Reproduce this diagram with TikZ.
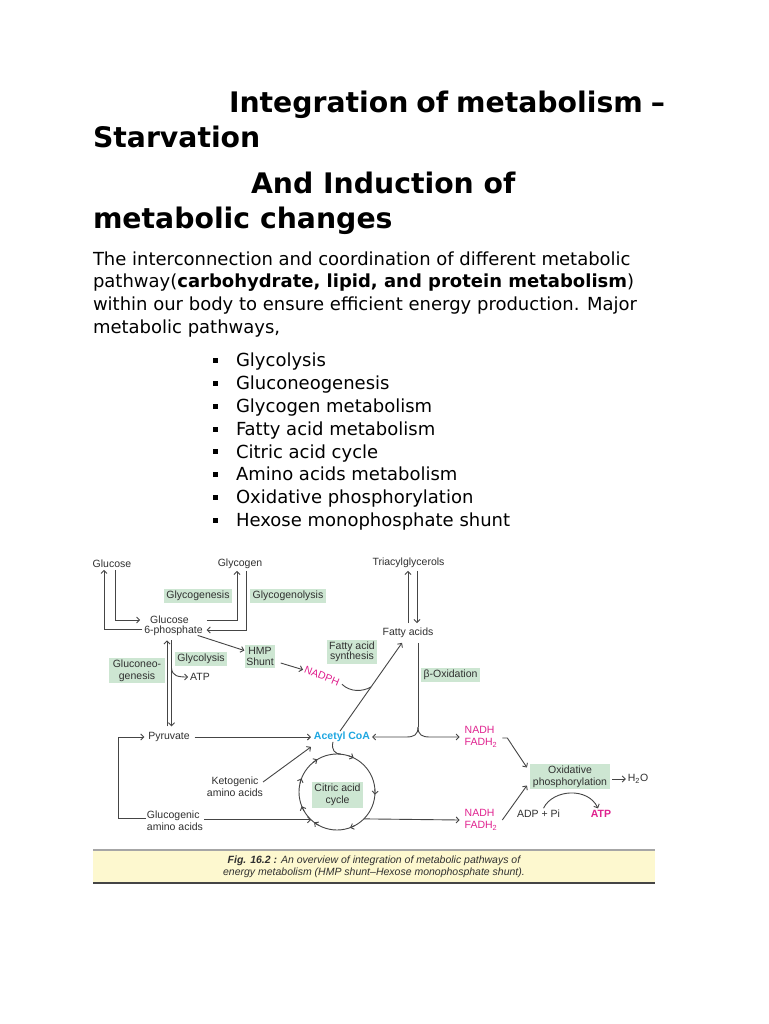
\documentclass[tikz,border=0pt]{standalone}
\usepackage{fontspec}
\setmainfont{DejaVu Sans}
\newfontfamily\dfont{Liberation Sans}
\usetikzlibrary{arrows.meta,calc}
\definecolor{dtext}{HTML}{303030}
\definecolor{dline}{HTML}{454545}
\definecolor{gbox}{HTML}{CDE6D2}
\definecolor{mag}{HTML}{E0228F}
\definecolor{cyanA}{HTML}{1EA7E1}
\definecolor{capbg}{HTML}{FDF8CF}
\begin{document}
\begin{tikzpicture}[x=1pt,y=-1pt,
  every node/.style={inner sep=0pt, outer sep=0pt},
  title/.style={anchor=base west, font=\fontsize{28.3}{34}\selectfont\bfseries},
  body/.style={anchor=base west, font=\fontsize{18}{21}\selectfont},
  bul/.style={fill=black, minimum size=5pt},
  lbl/.style={font=\dfont\fontsize{10.5}{11.8}\selectfont, text=dtext, inner sep=1pt, align=center},
  lblb/.style={lbl, font=\dfont\bfseries\fontsize{10.5}{11.8}\selectfont},
  gb/.style={lbl, fill=gbox, inner xsep=2.5pt, inner ysep=1.8pt},
  gbone/.style={gb, text height=7.6pt, text depth=2.2pt},
  arr/.style={draw=dline, line width=0.9pt, -{Straight Barb[length=3pt,width=6pt]}},
  ln/.style={draw=dline, line width=0.9pt},
]
\useasboundingbox (0,0) rectangle (768,1024);
\fill[white] (0,0) rectangle (768,1024);

% ---------- title and text ----------
\node[title] (t1) at (229,112.7) {\makebox[436pt][s]{Integration of metabolism –}};
\node[title] (t2) at (93,147.7) {Starvation};
\node[title] (t3) at (251,193.3) {And Induction of};
\node[title] (t4) at (93,229) {metabolic changes};
\node[body] (b1) at (93,265) {The interconnection and coordination of different metabolic};
\node[body] (b2) at (93,287.7) {pathway(\textbf{carbohydrate, lipid, and protein metabolism})};
\node[body] (b3) at (93,310.7) {within our body to ensure efficient energy production. Major};
\node[body] (b4) at (93,333.3) {metabolic pathways,};

\foreach \txt [count=\i from 0] in {Glycolysis, Gluconeogenesis, Glycogen metabolism, Fatty acid metabolism, Citric acid cycle, Amino acids metabolism, Oxidative phosphorylation, Hexose monophosphate shunt}{
  \node[body] (li\i) at (236,{366.7+22.85*\i}) {\txt};
  \node[bul] (bu\i) at (215.5,{360.5+22.85*\i}) {};
}

% ---------- diagram nodes ----------
\node[lbl] (glc) at (112,564) {Glucose};
\node[lbl] (glyg) at (240,564) {Glycogen};
\node[lbl] (g6pa) at (169.5,620) {Glucose};
\node[lbl] (g6pb) at (173.5,630.5) {6-phosphate};
\node[gbone] (glygen) at (198,596) {Glycogenesis};
\node[gbone] (glylys) at (288,596) {Glycogenolysis};
\node[gb, inner xsep=1pt] (hmp) at (260,656.5) {HMP\\Shunt};
\node[lbl, text=mag, rotate=-22] (nadph) at (322,676) {NADPH};
\node[gbone] (glyco) at (201,659) {Glycolysis};
\node[gb, inner xsep=4pt] (gneo) at (137,670.5) {Gluconeo-\\genesis};
\node[lbl] (atpa) at (200,677) {ATP};
\node[lbl] (pyr) at (169,737) {Pyruvate};
\node[lblb, text=cyanA] (acoa) at (342,737) {Acetyl CoA};
\node[lbl] (keto) at (235,787) {Ketogenic\\amino acids};
\node[lbl, align=left] (gluco) at (175,820.5) {Glucogenic\\amino acids};
\node[lbl] (tag) at (408.5,563) {Triacylglycerols};
\node[lbl] (fa) at (408,633) {Fatty acids};
\node[gb, font=\dfont\fontsize{10.5}{10}\selectfont] (fas) at (352,652) {Fatty acid\\synthesis};
\node[gbone] (box) at (450.5,675) {β-Oxidation};
\node[lbl, align=left, text=mag] (nadh1) at (481,737) {NADH\\FADH\textsubscript{2}};
\node[gb, inner xsep=3pt] (oxp) at (570,776.5) {Oxidative\\phosphorylation};
\node[lbl] (h2o) at (638,779) {H\textsubscript{2}O};
\node[lbl, align=left, text=mag] (nadh2) at (481,820) {NADH\\FADH\textsubscript{2}};
\node[lbl] (adp) at (538.5,814) {ADP + Pi};
\node[lblb, text=mag] (atpb) at (601,814) {ATP};
\node[circle, draw=dline, line width=0.9pt, minimum size=76pt] (cyc) at (337,792) {};
\coordinate (cycc) at (cyc.center);
\node[gb] (cac) at (337.5,795) {Citric acid\\cycle};

% ---------- connectors ----------
% glucose / glycogen loops
\draw[arr] ($(glc.south)+(3,1)$) |- ($(g6pa.west)+(-9,0)$);
\draw[arr] ($(g6pb.west)+(-1,-1)$) -| ($(glc.south)+(-8,1)$);
\draw[arr] ($(g6pa.east)+(17,0)$) -| ($(glyg.south)+(-3,1)$);
\draw[arr] ($(glyg.south)+(6,1)$) |- ($(g6pb.east)+(3,-0.5)$);
% HMP shunt
\draw[arr] ($(g6pb.south east)+(-6,-1)$) -- ($(hmp.west)+(-1,-6)$);
\draw[arr] ($(hmp.east)+(6,6.5)$) -- ($(nadph.west)+(-1,1)$);
% glycolysis / gluconeogenesis
\draw[arr] ($(pyr.north)+(-2,-5)$) -- ($(g6pb.south)+(-6.5,4)$);
\draw[arr] ($(g6pb.south)+(-2,4)$) -- ($(pyr.north)+(2.5,-5)$);
\draw[arr] (171.5,668) .. controls (172,676) and (178,677) .. ($(atpa.west)+(-1,0)$);
% pyruvate -> acetyl CoA
\draw[arr] ($(pyr.east)+(4,0)$) -- ($(acoa.west)+(-2,0)$);
% glucogenic loop
\draw[arr] ($(gluco.west)+(0,-2)$) -- ++(-28,0) |- ($(pyr.west)+(-3,0)$);
\draw[arr] (cyc.227 -| gluco.east) -- (cyc.227);
% ketogenic
\draw[arr] ($(keto.east)+(-1,-5)$) -- ($(acoa.south west)+(-2,4)$);
% fatty acid synthesis
\coordinate (fasA) at ($(acoa.north)+(-2,0)$);
\coordinate (fasB) at ($(fa.south)+(-6,4)$);
\draw[arr] (fasA) -- (fasB);
\draw[ln] ($(nadph.east)+(2,1)$) .. controls (350,692) and (362,692) .. ($(fasA)!0.5!(fasB)$);
% triacylglycerols
\draw[arr] ($(fa.north)+(0,-4)$) -- ($(tag.south)+(-0.5,2)$);
\draw[arr] ($(tag.south)+(8.5,2)$) -- ($(fa.north)+(9,-4)$);
% beta oxidation
\coordinate (split) at (418,727);
\draw[ln] ($(fa.south)+(10,4)$) -- (split);
\draw[arr] (split) .. controls (418,735) and (414,737) .. (406,737) -- ($(acoa.east)+(1,0)$);
\draw[arr] (split) .. controls (418,735) and (422,737) .. (430,737) -- ($(nadh1.west)+(-4,0)$);
% acetyl CoA -> cycle
\draw[ln] ($(acoa.south)+(-9,-1)$) .. controls (331,750) and (335,754) .. (cyc.84);
% cycle arrows
\foreach \t in {4,70,127,158,201,239,296}{
  \draw[arr] ($(cycc)+({\t-8}:38)$) arc[start angle=\t-8, end angle=\t, radius=38];
}
% cycle -> NADH
\draw[arr] (cyc.-45) -- ($(nadh2.west)+(-4,0)$);
% oxidative phosphorylation
\draw[arr] ($(nadh1.east)+(4,1)$) -- ++(5,0) -- ($(oxp.west)+(-3,-9)$);
\draw[arr] ($(nadh2.east)+(4,0)$) -- ($(oxp.west)+(-3,9)$);
\draw[arr] ($(oxp.east)+(2,2.5)$) -- ($(h2o.west)+(-1,0)$);
\draw[arr] ($(adp.north)+(5,-1)$) .. controls (553,789) and (588,787) .. ($(atpb.north)+(-3,-1)$);

% ---------- caption ----------
\node[fill=capbg, minimum width=562pt, minimum height=33pt] (capbox) at (374,866.5) {};
\draw[draw=gray!70, line width=1.2pt] (capbox.north west) -- (capbox.north east);
\draw[draw=dline, line width=2pt] (capbox.south west) -- (capbox.south east);
\node[font=\dfont\itshape\fontsize{10.5}{12.5}\selectfont, text=dtext, align=center] (cap) at (374,867) {\textbf{Fig. 16.2 :} An overview of integration of metabolic pathways of\\energy metabolism (HMP shunt–Hexose monophosphate shunt).};
\end{tikzpicture}
\end{document}
